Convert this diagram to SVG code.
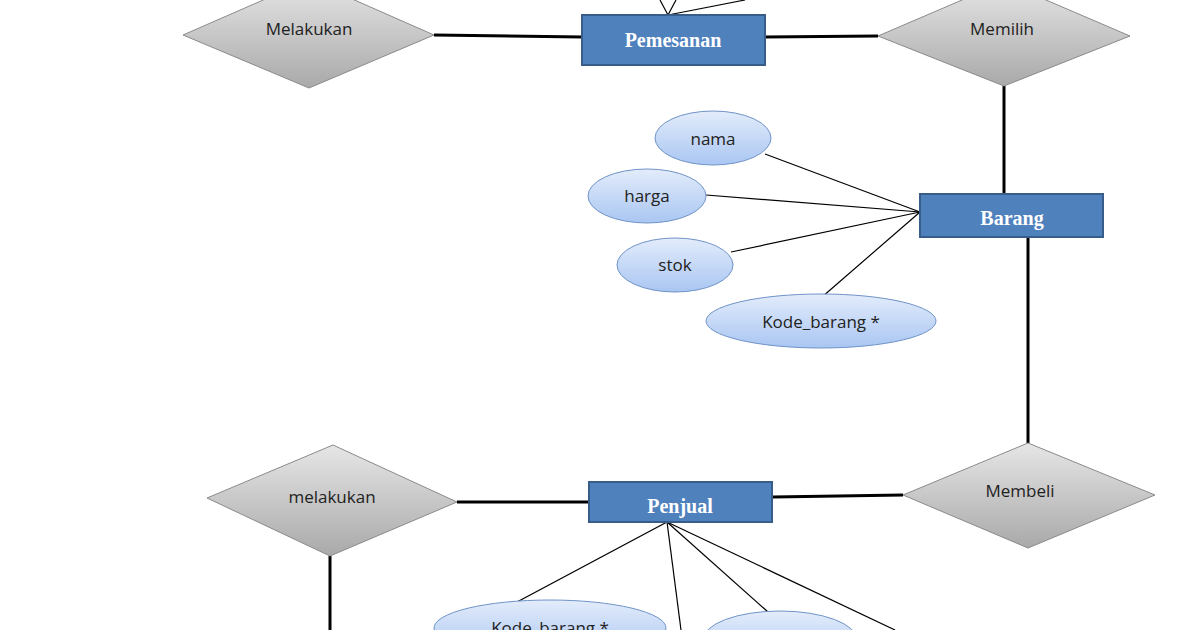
<svg xmlns="http://www.w3.org/2000/svg" width="1200" height="630" viewBox="0 0 1200 630">
<defs>
<linearGradient id="dg" x1="0" y1="0" x2="0" y2="1"><stop offset="0" stop-color="#e6e6e6"/><stop offset="1" stop-color="#a9a9a9"/></linearGradient>
<linearGradient id="eg" x1="0" y1="0" x2="0" y2="1"><stop offset="0" stop-color="#e3ecfb"/><stop offset="1" stop-color="#a9c6f2"/></linearGradient>
<style>
.d{fill:url(#dg);stroke:#8a8a8a;stroke-width:1}
.e{fill:url(#eg);stroke:#6f93c8;stroke-width:1}
.r{fill:#4f81bd;stroke:#385d8a;stroke-width:2}
.rt{font-family:"Liberation Serif",serif;font-weight:bold;font-size:20px;fill:#fff;text-anchor:middle}
.t{font-family:"Open Sans","Liberation Sans",sans-serif;font-size:17px;fill:#222;text-anchor:middle}
.k{stroke:#000;stroke-width:3;fill:none}
.a{stroke:#000;stroke-width:1.2;fill:none}
</style>
</defs>
<rect width="1200" height="630" fill="#fff"/>
<g id="connectors">
<line class="k" x1="434" y1="35" x2="582" y2="37"/>
<line class="k" x1="765" y1="37" x2="878" y2="36"/>
<line class="k" x1="1004" y1="86" x2="1004" y2="194"/>
<line class="k" x1="1028" y1="237" x2="1028" y2="443"/>
<line class="k" x1="457" y1="502" x2="589" y2="502"/>
<line class="k" x1="773" y1="497" x2="903" y2="495"/>
<line class="k" x1="330" y1="556" x2="330" y2="630"/>
<line class="a" x1="668" y1="15" x2="660" y2="0"/>
<line class="a" x1="668" y1="15" x2="676" y2="0"/>
<line class="a" x1="668" y1="15" x2="745" y2="0"/>
<line class="a" x1="920" y1="212" x2="765" y2="154"/>
<line class="a" x1="920" y1="212" x2="706" y2="195"/>
<line class="a" x1="920" y1="212" x2="731" y2="252"/>
<line class="a" x1="920" y1="212" x2="822" y2="297"/>
<line class="a" x1="667" y1="522" x2="517" y2="602"/>
<line class="a" x1="667" y1="522" x2="681" y2="630"/>
<line class="a" x1="667" y1="522" x2="768" y2="612"/>
<line class="a" x1="667" y1="522" x2="895" y2="630"/>
</g>
<g id="melakukan1"><polygon class="d" points="183,35 309,-20 434,35 309,88"/><text class="t" x="309" y="35">Melakukan</text></g>
<g id="pemesanan"><rect class="r" x="582" y="15" width="183" height="50"/><text class="rt" x="673" y="47">Pemesanan</text></g>
<g id="memilih"><polygon class="d" points="878,36 1004,-18 1130,36 1004,86"/><text class="t" x="1002" y="35">Memilih</text></g>
<g id="nama"><ellipse class="e" cx="713" cy="138" rx="58" ry="27"/><text class="t" x="713" y="145">nama</text></g>
<g id="harga"><ellipse class="e" cx="647" cy="196" rx="59" ry="27"/><text class="t" x="647" y="202">harga</text></g>
<g id="stok"><ellipse class="e" cx="675" cy="265" rx="58" ry="27"/><text class="t" x="675" y="271">stok</text></g>
<g id="kode1"><ellipse class="e" cx="821" cy="321" rx="115" ry="27"/><text class="t" x="821" y="328">Kode_barang *</text></g>
<g id="barang"><rect class="r" x="920" y="194" width="183" height="43"/><text class="rt" x="1012" y="225">Barang</text></g>
<g id="melakukan2"><polygon class="d" points="207,498 333,445 457,502 330,556"/><text class="t" x="332" y="503">melakukan</text></g>
<g id="penjual"><rect class="r" x="589" y="482" width="183" height="40"/><text class="rt" x="680" y="513">Penjual</text></g>
<g id="membeli"><polygon class="d" points="903,495 1028,443 1155,495 1028,548"/><text class="t" x="1020" y="497">Membeli</text></g>
<g id="kode2"><ellipse class="e" cx="550" cy="628" rx="116" ry="28"/><text class="t" x="550" y="634">Kode_barang *</text></g>
<g id="attr2"><ellipse class="e" cx="780" cy="640" rx="77" ry="29"/></g>
</svg>
